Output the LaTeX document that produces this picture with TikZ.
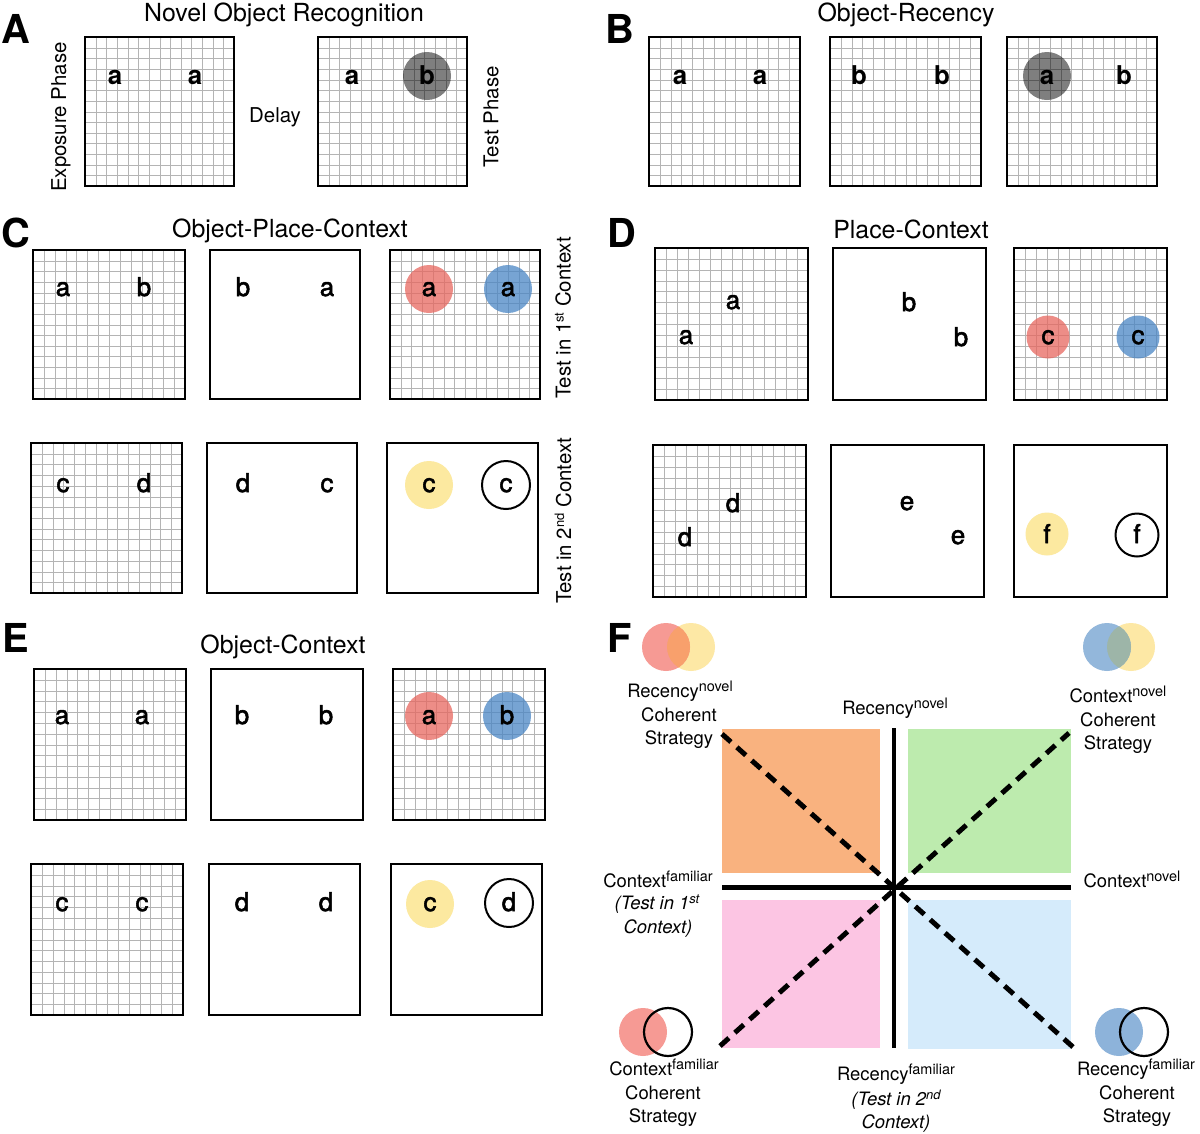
\documentclass[tikz,border=0pt]{standalone}
\usepackage{fontspec}
\setmainfont{TeX Gyre Heros}
\newfontfamily\medfont{TeX Gyre Heros}[FakeBold=2]
\definecolor{gridgray}{HTML}{B4B4B4}
\definecolor{cred}{HTML}{E8675F}
\definecolor{cblue}{HTML}{4A86C5}
\definecolor{cyellow}{HTML}{FCE9A0}
\definecolor{qorange}{HTML}{F9B27F}
\definecolor{qgreen}{HTML}{BDEBAE}
\definecolor{qpink}{HTML}{FCC5E3}
\definecolor{qblue}{HTML}{D5EBFB}
\definecolor{vred}{HTML}{F69A94}
\definecolor{vyellow}{HTML}{FDE8A5}
\definecolor{vorange}{HTML}{F8A06C}
\definecolor{vblue}{HTML}{93B7DB}
\definecolor{vgreen}{HTML}{9DB5A8}
\definecolor{vblue2}{HTML}{8DB3DA}
\newcommand{\sups}[1]{\raisebox{6pt}{\fontsize{14.5}{14.5}\selectfont #1}}
\newcommand{\sidesup}[1]{\raisebox{7pt}{\fontsize{13}{13}\selectfont #1}}
\newcommand{\itsup}[1]{\raisebox{6pt}{\fontsize{13}{13}\selectfont\itshape #1}}
\newcommand{\plainarena}[5]{%
  \node[arena, minimum width={(#4-#2)*1bp}, minimum height={(#5-#3)*1bp}] (#1) at ({(#2+#4)/2},{(#3+#5)/2}) {};}
\newcommand{\gridarena}[5]{%
  \foreach \k in {1,...,13}{%
    \draw[gridln] ({round(#2+\k*(#4-#2)/14)+0.5},#3) -- ({round(#2+\k*(#4-#2)/14)+0.5},#5);
    \draw[gridln] (#2,{round(#3+\k*(#5-#3)/14)+0.5}) -- (#4,{round(#3+\k*(#5-#3)/14)+0.5});
  }%
  \plainarena{#1}{#2}{#3}{#4}{#5}}
\newcommand{\obj}[5]{\node[#2] (#1) at (#3,{#4+7}) {#5};}
\begin{document}
\begin{tikzpicture}[x=1bp,y=-1bp,
  arena/.style={draw=black, line width=2.4pt, inner sep=0pt, outer sep=0pt},
  gridln/.style={draw=gridgray, line width=1.5pt},
  objA/.style={inner sep=0pt, anchor=base, font=\fontsize{26}{26}\selectfont\bfseries},
  objC/.style={inner sep=0pt, anchor=base, font=\fontsize{26}{26}\medfont},
  paneltag/.style={inner sep=0pt, font=\fontsize{40}{40}\selectfont\bfseries},
  ttl/.style={inner sep=0pt, anchor=base, font=\fontsize{25}{25}\selectfont},
  sidelbl/.style={inner sep=0pt, rotate=90, font=\fontsize{20.5}{20.5}\selectfont},
  flbl/.style={inner sep=0pt, anchor=base, font=\fontsize{18.5}{18.5}\selectfont},
  fit/.style={inner sep=0pt, anchor=base, font=\fontsize{18.5}{18.5}\selectfont\itshape},
  disc/.style={circle, inner sep=0pt, minimum size=48bp},
  greydisc/.style={disc, fill=black, fill opacity=0.5},
  reddisc/.style={disc, fill=cred, fill opacity=0.75},
  bluedisc/.style={disc, fill=cblue, fill opacity=0.75},
  yellowdisc/.style={disc, fill=cyellow},
  ring/.style={disc, draw=black, line width=2pt},
  axisline/.style={draw=black, line width=5pt},
  diagline/.style={draw=black, line width=5pt, dash pattern=on 12pt off 8pt}]
\useasboundingbox (0,0) rectangle (1200,1134);
\fill[white] (0,0) rectangle (1200,1134);

% ---------------- Panel A ----------------
\node[paneltag] (tagA) at (16,29) {A};
\node[ttl] (ttlA) at (284,21) {Novel Object Recognition};
\gridarena{A1}{85}{37}{234}{186}
\gridarena{A2}{318}{37}{467}{186}
\node[sidelbl] (expo) at (61,117) {Exposure Phase};
\node[sidelbl] (testph) at (491,117) {Test Phase};
\node[inner sep=0pt, font=\fontsize{20.5}{20.5}\selectfont] (delay) at (275,117) {Delay};
\node[greydisc] (A2c) at (427,76) {};
\obj{A1a}{objA}{115}{77}{a}
\obj{A1b}{objA}{195}{77}{a}
\obj{A2a}{objA}{352}{77}{a}
\obj{A2b}{objA}{427}{77}{b}

% ---------------- Panel B ----------------
\node[paneltag] (tagB) at (620,29) {B};
\node[ttl] (ttlB) at (906,21) {Object-Recency};
\gridarena{B1}{649}{37}{800}{186}
\gridarena{B2}{830}{37}{981}{186}
\gridarena{B3}{1007}{37}{1157}{186}
\node[greydisc] (B3c) at (1047,76) {};
\obj{B1a}{objA}{680}{77}{a}
\obj{B1b}{objA}{760}{77}{a}
\obj{B2a}{objA}{859}{77}{b}
\obj{B2b}{objA}{942}{77}{b}
\obj{B3a}{objA}{1047}{77}{a}
\obj{B3b}{objA}{1124}{77}{b}

% ---------------- Panel C ----------------
\node[paneltag] (tagC) at (16,233) {C};
\node[ttl] (ttlC) at (290,237) {Object-Place-Context};
\gridarena{C1}{33}{250}{185}{399}
\plainarena{C2}{210}{250}{360}{399}
\gridarena{C3}{390}{250}{540}{399}
\gridarena{C4}{31}{443}{182}{593}
\plainarena{C5}{207}{443}{357}{593}
\plainarena{C6}{387}{443}{538}{593}
\node[reddisc] (C3r) at (429,289) {};
\node[bluedisc] (C3b) at (508,289) {};
\node[yellowdisc] (C6y) at (429,485) {};
\node[ring] (C6r) at (506,485) {};
\obj{C1a}{objC}{63}{289}{a}
\obj{C1b}{objC}{144}{289}{b}
\obj{C2a}{objC}{243}{289}{b}
\obj{C2b}{objC}{327}{289}{a}
\obj{C3a}{objC}{429}{289}{a}
\obj{C3b2}{objC}{508}{289}{a}
\obj{C4a}{objC}{63}{485}{c}
\obj{C4b}{objC}{144}{485}{d}
\obj{C5a}{objC}{243}{485}{d}
\obj{C5b}{objC}{327}{485}{c}
\obj{C6a}{objC}{429}{485}{c}
\obj{C6b}{objC}{506}{485}{c}
\node[sidelbl] (t1) at (563,318) {Test in 1\sidesup{st} Context};
\node[sidelbl] (t2) at (563,521) {Test in 2\sidesup{nd} Context};

% ---------------- Panel D ----------------
\node[paneltag] (tagD) at (622,233) {D};
\node[ttl] (ttlD) at (911,238) {Place-Context};
\gridarena{D1}{655}{248}{808}{400}
\plainarena{D2}{833}{248}{986}{400}
\gridarena{D3}{1014}{248}{1167}{400}
\gridarena{D4}{653}{445}{806}{597}
\plainarena{D5}{831}{445}{984}{597}
\plainarena{D6}{1014}{445}{1167}{597}
\node[reddisc, minimum size=43bp] (D3r) at (1048,337) {};
\node[bluedisc, minimum size=43bp] (D3b) at (1138,337) {};
\node[yellowdisc, minimum size=43bp] (D6y) at (1047,534) {};
\node[ring, minimum size=43bp] (D6r) at (1137,535) {};
\obj{D1a}{objC}{733}{302}{a}
\obj{D1b}{objC}{686}{337}{a}
\obj{D2a}{objC}{909}{304}{b}
\obj{D2b}{objC}{961}{339}{b}
\obj{D3a}{objC}{1048}{337}{c}
\obj{D3b2}{objC}{1138}{337}{c}
\obj{D4a}{objC}{733}{505}{d}
\obj{D4b}{objC}{685}{539}{d}
\obj{D5a}{objC}{907}{503}{e}
\obj{D5b}{objC}{958}{537}{e}
\obj{D6a}{objC}{1047}{536}{f}
\obj{D6b}{objC}{1137}{536}{f}

% ---------------- Panel E ----------------
\node[paneltag] (tagE) at (16,638) {E};
\node[ttl] (ttlE) at (283,653) {Object-Context};
\gridarena{E1}{34}{669}{186}{820}
\plainarena{E2}{211}{669}{363}{820}
\gridarena{E3}{393}{669}{545}{820}
\gridarena{E4}{31}{864}{183}{1015}
\plainarena{E5}{209}{864}{360}{1015}
\plainarena{E6}{391}{864}{542}{1015}
\node[reddisc] (E3r) at (429,716) {};
\node[bluedisc] (E3b) at (507,716) {};
\node[yellowdisc] (E6y) at (430,904) {};
\node[ring] (E6r) at (509,903) {};
\obj{E1a}{objC}{62}{717}{a}
\obj{E1b}{objC}{142}{717}{a}
\obj{E2a}{objC}{242}{717}{b}
\obj{E2b}{objC}{326}{717}{b}
\obj{E3a}{objC}{429}{717}{a}
\obj{E3b2}{objC}{507}{717}{b}
\obj{E4a}{objC}{62}{904}{c}
\obj{E4b}{objC}{142}{904}{c}
\obj{E5a}{objC}{242}{904}{d}
\obj{E5b}{objC}{326}{904}{d}
\obj{E6a}{objC}{430}{904}{c}
\obj{E6b}{objC}{509}{904}{d}

% ---------------- Panel F ----------------
\node[paneltag] (tagF) at (620,638) {F};
\fill[qorange] (722,729) rectangle (880,873);
\fill[qgreen] (908,729) rectangle (1071,873);
\fill[qpink] (722,900) rectangle (880,1048);
\fill[qblue] (908,900) rectangle (1071,1049);
\coordinate (vtop) at (894,728);
\coordinate (vbot) at (894,1048);
\coordinate (hleft) at (722,887);
\coordinate (hright) at (1071,887);
\coordinate (d1a) at (722,734);
\coordinate (d1b) at (1073,1047);
\coordinate (d2a) at (720,1046);
\coordinate (d2b) at (1069,733);
\draw[axisline] (vtop) -- (vbot);
\draw[axisline] (hleft) -- (hright);
\draw[diagline] (d1a) -- (d1b);
\draw[diagline] (d2a) -- (d2b);

% Venn top-left
\fill[vyellow] (691,647) circle (24);
\fill[vred] (666,647) circle (24);
\begin{scope}
  \clip (666,647) circle (24);
  \fill[vorange] (691,647) circle (24);
\end{scope}
% Venn top-right
\fill[vyellow] (1131,647) circle (24);
\fill[vblue] (1107,647) circle (24);
\begin{scope}
  \clip (1107,647) circle (24);
  \fill[vgreen] (1131,647) circle (24);
\end{scope}
% Venn bottom-left
\fill[vred] (643,1032) circle (24);
\draw[black, line width=2.2pt] (668,1032) circle (24);
% Venn bottom-right
\fill[vblue2] (1119,1032) circle (24);
\draw[black, line width=2.2pt] (1144,1032) circle (24);

\node[flbl] (tl1) at (680,697) {Recency\sups{novel}};
\node[flbl] (tl2) at (679,721) {Coherent};
\node[flbl] (tl3) at (679,744) {Strategy};
\node[flbl] (tr1) at (1118,702) {Context\sups{novel}};
\node[flbl] (tr2) at (1118,726) {Coherent};
\node[flbl] (tr3) at (1118,749) {Strategy};
\node[flbl] (mt) at (895,714) {Recency\sups{novel}};
\node[flbl] (ml1) at (658,887) {Context\sups{familiar}};
\node[fit] (ml2) at (657,909) {(Test in 1\itsup{st}};
\node[fit] (ml3) at (658,933) {Context)};
\node[flbl] (mr) at (1132,887) {Context\sups{novel}};
\node[flbl] (mb1) at (896,1080) {Recency\sups{familiar}};
\node[fit] (mb2) at (896,1105) {(Test in 2\itsup{nd}};
\node[fit] (mb3) at (896,1128) {Context)};
\node[flbl] (bl1) at (664,1075) {Context\sups{familiar}};
\node[flbl] (bl2) at (663,1099) {Coherent};
\node[flbl] (bl3) at (663,1122) {Strategy};
\node[flbl] (br1) at (1136,1075) {Recency\sups{familiar}};
\node[flbl] (br2) at (1137,1099) {Coherent};
\node[flbl] (br3) at (1137,1122) {Strategy};
\end{tikzpicture}
\end{document}
